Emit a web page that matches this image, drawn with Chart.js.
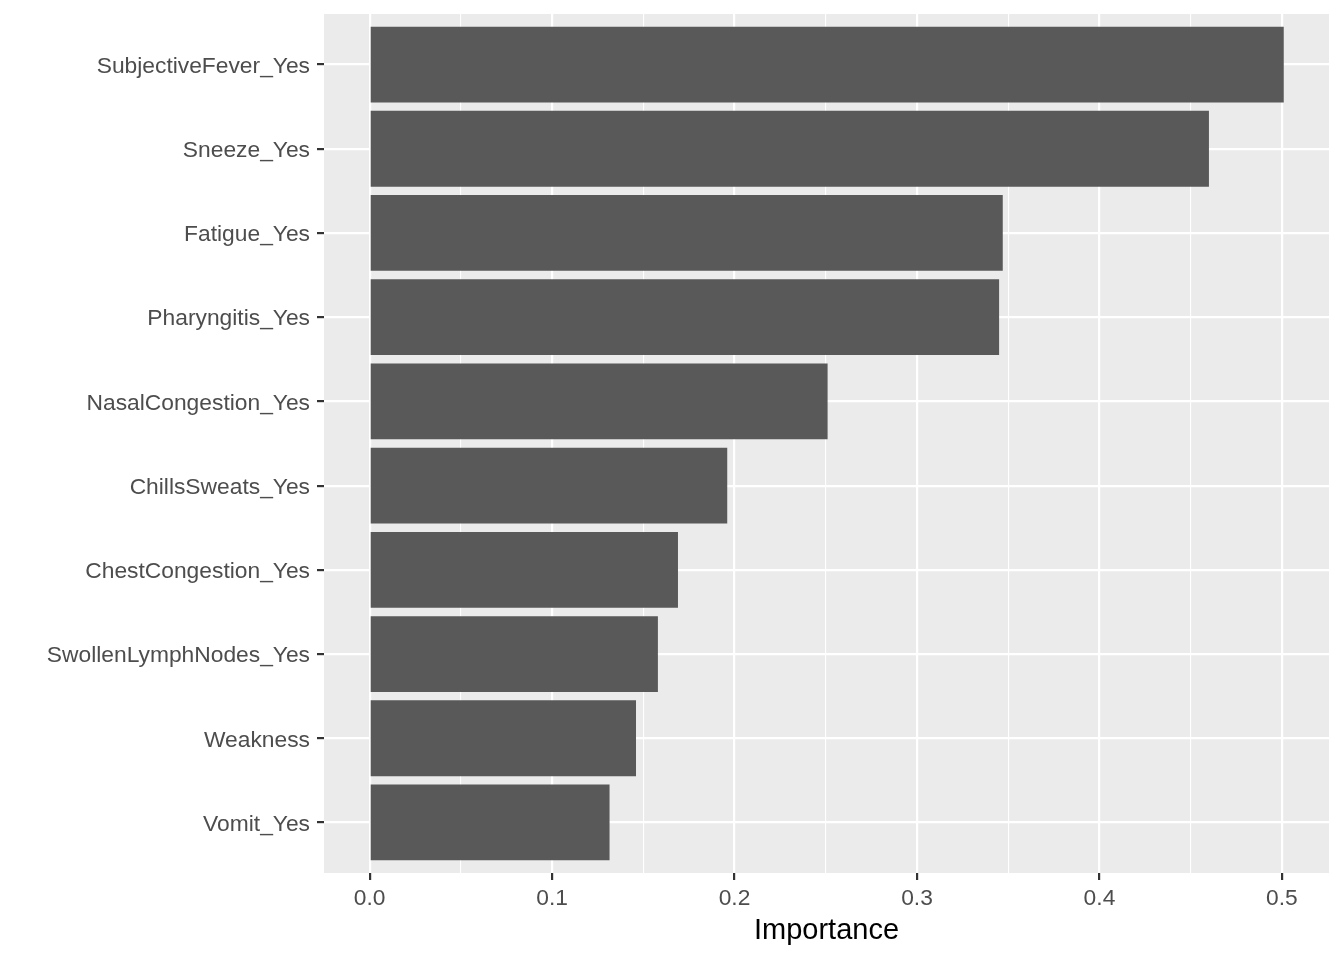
<!DOCTYPE html>
<html>
<head>
<meta charset="utf-8">
<script src="https://cdn.jsdelivr.net/npm/chart.js@4"></script>
<style>
  html, body { margin: 0; padding: 0; background: #ffffff; }
  canvas { display: block; }
</style>
</head>
<body>
<canvas id="chart" width="1344" height="960"></canvas>
<script>
// --- Data (top to bottom) ---
const features = [
    'SubjectiveFever_Yes',
    'Sneeze_Yes',
    'Fatigue_Yes',
    'Pharyngitis_Yes',
    'NasalCongestion_Yes',
    'ChillsSweats_Yes',
    'ChestCongestion_Yes',
    'SwollenLymphNodes_Yes',
    'Weakness',
    'Vomit_Yes'
];
const importance = [0.501, 0.460, 0.347, 0.345, 0.251, 0.196, 0.169, 0.158, 0.146, 0.1315];
const xTicks = [0, 0.05, 0.1, 0.15, 0.2, 0.25, 0.3, 0.35, 0.4, 0.45, 0.5];
const xLabels = ['0.0', '', '0.1', '', '0.2', '', '0.3', '', '0.4', '', '0.5'];

// grey panel behind the plot, like ggplot
const panelBackground = {
    id: 'panelBackground',
    beforeDraw(chart) {
        const { ctx, chartArea } = chart;
        ctx.save();
        ctx.fillStyle = '#EBEBEB';
        ctx.fillRect(chartArea.left, chartArea.top, chartArea.right - chartArea.left, chartArea.bottom - chartArea.top);
        ctx.restore();
    }
};

const ctx = document.getElementById('chart').getContext('2d');
new Chart(ctx, {
    type: 'bar',
    data: {
        datasets: [{
            data: features.map((f, i) => ({ x: importance[i], y: i })),
            backgroundColor: '#595959',
            borderWidth: 0,
            barPercentage: 0.9,
            categoryPercentage: 1.0
        }]
    },
    options: {
        indexAxis: 'y',
        responsive: false,
        devicePixelRatio: 1,
        animation: false,
        layout: { padding: { left: 0, right: 15, top: 14, bottom: 0 } },
        plugins: {
            legend: { display: false },
            tooltip: { enabled: false }
        },
        scales: {
            x: {
                type: 'linear',
                position: 'bottom',
                min: -0.025,
                max: 0.5258,
                afterBuildTicks: scale => { scale.ticks = xTicks.map(v => ({ value: v })); },
                afterFit: scale => {
                    scale.height = 87;
                    scale.paddingLeft = 0;
                    scale.paddingRight = 0;
                },
                border: { display: false },
                grid: {
                    color: '#FFFFFF',
                    lineWidth: c => (c.index % 2 === 0 ? 2.2 : 1.1),
                    tickColor: c => (c.index % 2 === 0 ? '#333333' : 'rgba(0,0,0,0)'),
                    tickLength: 7,
                    tickWidth: 2.2
                },
                ticks: {
                    autoSkip: false,
                    maxRotation: 0,
                    padding: 5,
                    color: '#4D4D4D',
                    font: { family: 'Liberation Sans, Arial, sans-serif', size: 22.8 },
                    callback: (v, i) => xLabels[i]
                },
                title: {
                    display: true,
                    text: 'Importance',
                    color: '#000000',
                    padding: { top: 0, bottom: 12 },
                    font: { family: 'Liberation Sans, Arial, sans-serif', size: 29 }
                }
            },
            y: {
                type: 'linear',
                reverse: true,
                offset: false,
                min: -0.6,
                max: 9.6,
                afterBuildTicks: scale => { scale.ticks = features.map((f, i) => ({ value: i })); },
                afterFit: scale => {
                    scale.width = 324;
                    scale.paddingTop = 0;
                    scale.paddingBottom = 0;
                },
                border: { display: false },
                grid: {
                    offset: false,
                    color: '#FFFFFF',
                    lineWidth: 2.2,
                    tickColor: '#333333',
                    tickLength: 7,
                    tickWidth: 2.2
                },
                ticks: {
                    autoSkip: false,
                    padding: 7,
                    labelOffset: 2,
                    color: '#4D4D4D',
                    font: { family: 'Liberation Sans, Arial, sans-serif', size: 22.8 },
                    callback: (v, i) => features[i]
                }
            }
        }
    },
    plugins: [panelBackground]
});
</script>
</body>
</html>
